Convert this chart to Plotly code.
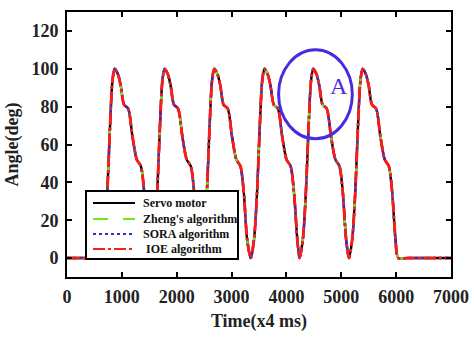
import plotly.graph_objects as go

# Peak times of the six motion cycles (x4 ms)
peak_times = [870, 1780, 2685, 3600, 4490, 5390]

# One cycle's profile, as offsets from its peak (x4 ms) and angles (deg)
rise_offsets = [-250, -190, -135, -85, -40, 0]
rise_angles = [0, 10, 35, 70, 94, 100]
fall_offsets = [60, 110, 170, 244, 324, 403, 476, 537, 598, 650]
fall_angles = [97, 91, 81, 79, 64, 52, 48.6, 35, 10, 0]

# Rest periods before the first and after the last cycle (x4 ms, angle 0)
rest_before = [0, 450]
rest_after = [6200, 7000]

# Build the angle trace from the cycle profile
time = list(rest_before)
angle = [0] * len(rest_before)
for i, tp in enumerate(peak_times):
    for off, a in zip(rise_offsets, rise_angles):
        if i > 0 and off == rise_offsets[0]:
            continue  # the dip is shared with the previous cycle's descent
        time.append(tp + off)
        angle.append(a)
    last = i == len(peak_times) - 1
    falls = fall_offsets if last else fall_offsets[:-1]
    fang = fall_angles if last else fall_angles[:-1]
    for off, a in zip(falls, fang):
        time.append(tp + off)
        angle.append(a)
    if not last:
        time.append(peak_times[i + 1] + rise_offsets[0])
        angle.append(0)
time += rest_after
angle += [0] * len(rest_after)

series_names = ["Servo motor", "Zheng's algorithm", "SORA algorithm", "\u00a0IOE algorithm"]
series_colors = ["#000000", "#6CE81E", "#2E2ED0", "#FF1A1A"]
series_dashes = ["solid", "longdash", "dot", "12px,3px,3px,3px"]
series_widths = [2.4, 2.4, 2.4, 2.8]

fig = go.Figure()
for name, color, dash, width in zip(series_names, series_colors, series_dashes, series_widths):
    fig.add_trace(go.Scatter(
        x=time, y=angle, mode="lines", name=name, showlegend=False,
        line=dict(color=color, dash=dash, width=width, shape="spline", smoothing=0.8),
    ))

serif = "Liberation Serif, Times New Roman, serif"
ring = "#4B2BE0"

# Highlight ring around the fifth cycle, labelled "A"
fig.add_shape(type="circle", xref="x", yref="y",
              x0=3857, x1=5201, y0=63, y1=110,
              line=dict(color=ring, width=3))
fig.add_annotation(x=4953, y=91, text="A", showarrow=False,
                   font=dict(family=serif, size=24, color=ring))

# Boxed legend in the lower-left corner of the plot area
fig.add_shape(type="rect", xref="paper", yref="paper",
              x0=0.0495, x1=0.4453, y0=0.0679, y1=0.3245,
              line=dict(color="black", width=2), fillcolor="white", layer="above")
row_y = [0.2792, 0.2189, 0.1623, 0.1057]
for ry, name, color, dash in zip(row_y, series_names, series_colors, series_dashes):
    fig.add_shape(type="line", xref="paper", yref="paper",
                  x0=0.0677, x1=0.1771, y0=ry, y1=ry,
                  line=dict(color=color, width=2.2, dash=dash), layer="above")
    fig.add_annotation(xref="paper", yref="paper", x=0.1927, y=ry,
                       xanchor="left", yanchor="middle", text=name, showarrow=False,
                       font=dict(family=serif, size=12, color="#111111", weight="bold"))

label_font = dict(family=serif, size=18, color="#222222", weight="bold")
axis_common = dict(
    showline=True, linecolor="black", linewidth=2, mirror="ticks",
    ticks="inside", ticklen=5, tickwidth=2, tickcolor="black",
    showgrid=False, zeroline=False, automargin=False,
    tickfont=label_font,
)

fig.update_layout(
    width=474, height=337,
    margin=dict(l=67, r=23, t=12, b=60),
    paper_bgcolor="white", plot_bgcolor="white",
    xaxis=dict(range=[0, 7000], dtick=1000, tick0=0, ticklabelstandoff=2,
               title=dict(text="Time(x4 ms)", standoff=9, font=label_font),
               **axis_common),
    yaxis=dict(range=[-10, 130], dtick=20, tick0=0, ticklabelstandoff=3,
               title=dict(text="Angle(deg)", standoff=8, font=label_font),
               **axis_common),
)

fig.write_html("out.html")
